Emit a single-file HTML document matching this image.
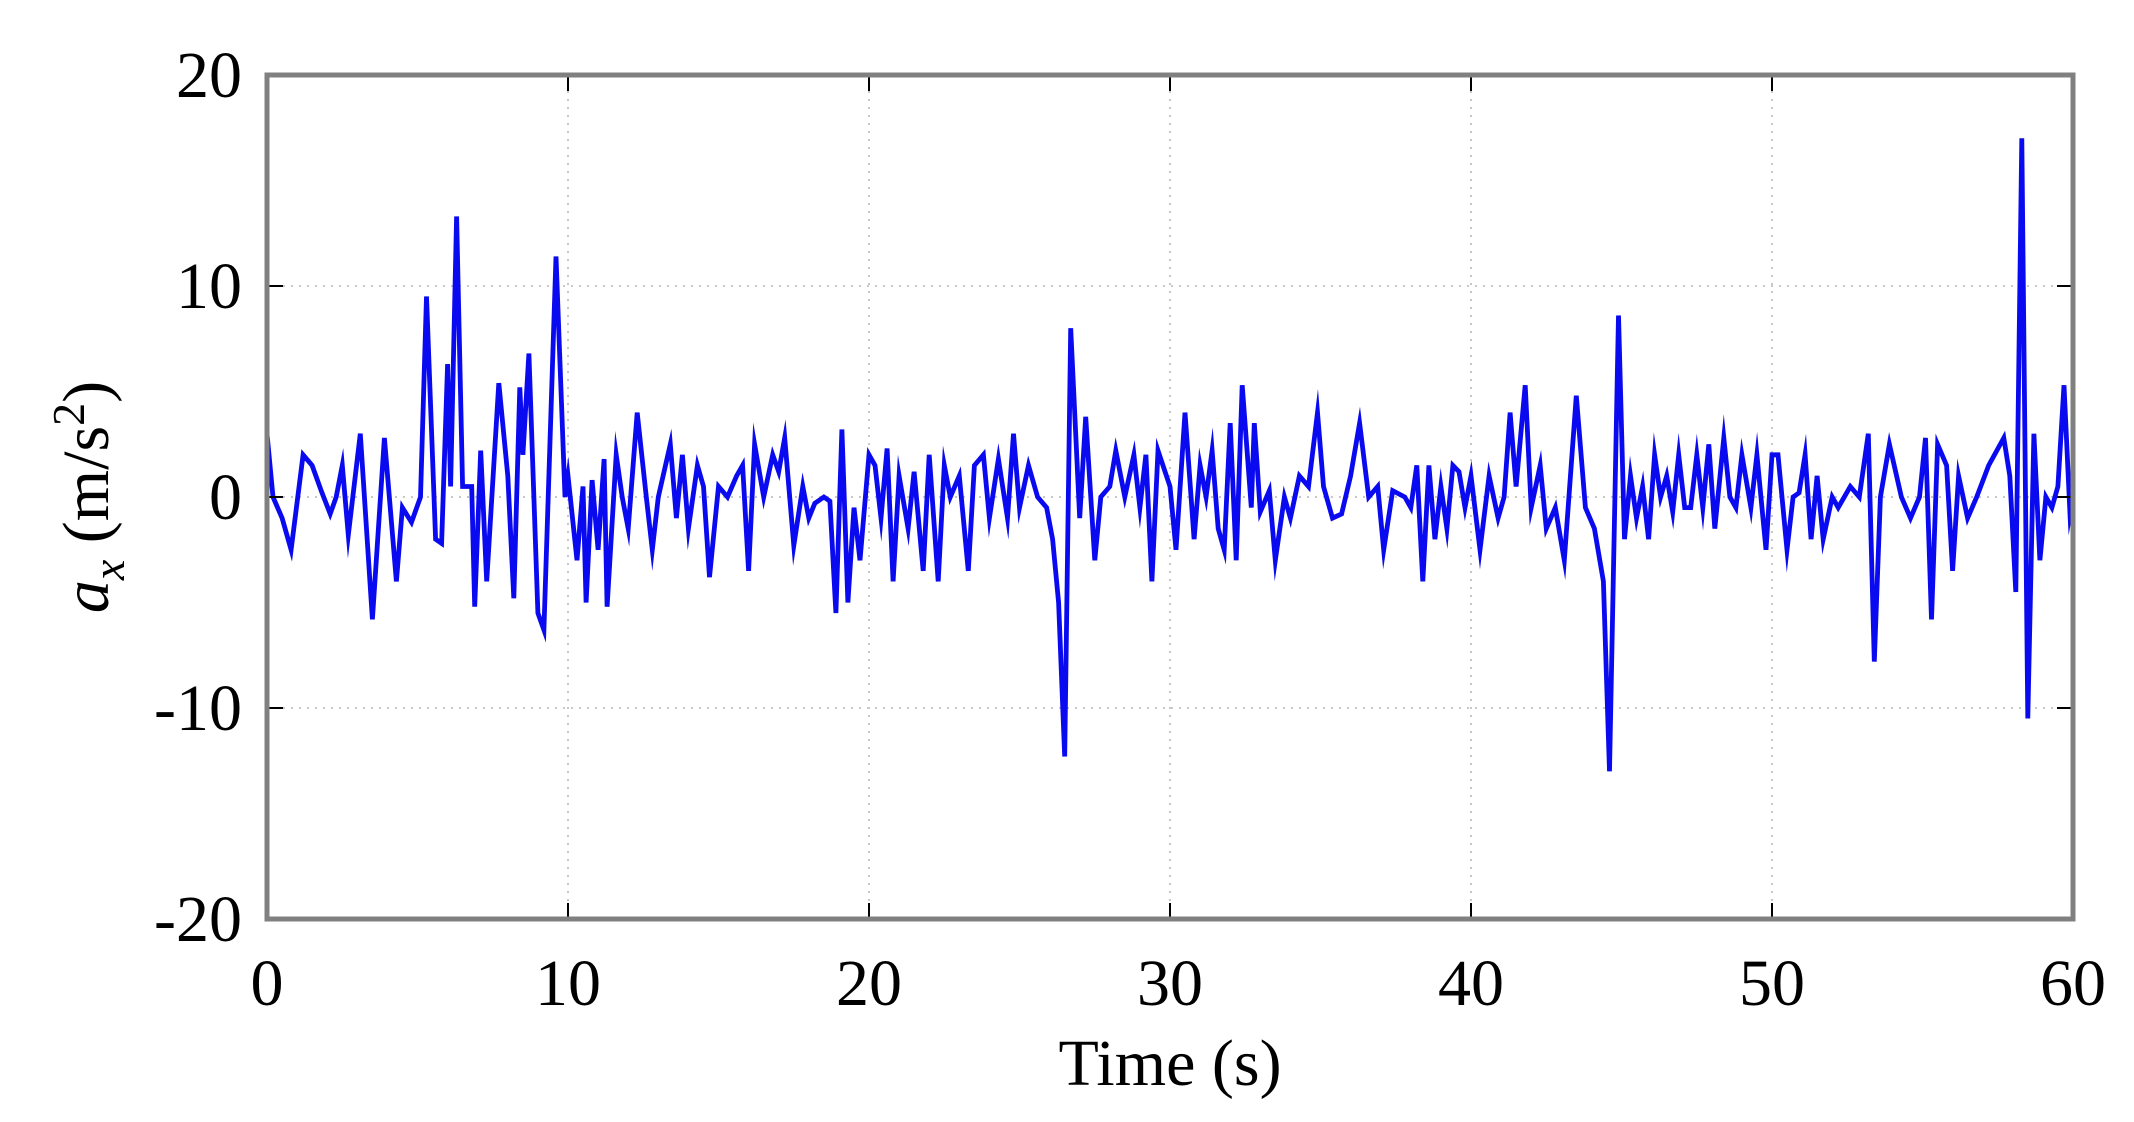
<!DOCTYPE html>
<html><head><meta charset="utf-8"><style>
html,body{margin:0;padding:0;background:#fff;}
svg{display:block;font-family:"Liberation Serif",serif;}
</style></head><body>
<svg id="chart" width="2134" height="1122" viewBox="0 0 2134 1122" xmlns="http://www.w3.org/2000/svg">
<g id="grid"></g>
<g id="series"></g>
<g id="axes"></g>
<text x="1170" y="1085" font-size="66" text-anchor="middle">Time (s)</text>
<text transform="translate(108,497) rotate(-90)" font-size="66" text-anchor="middle"><tspan font-style="italic">a</tspan><tspan font-size="46" font-style="italic" dy="16">x</tspan><tspan dy="-16"> (m/s</tspan><tspan font-size="46" dy="-24">2</tspan><tspan dy="24">)</tspan></text>
</svg>
<script>
const xTicks = [0,10,20,30,40,50,60];
const yTicks = [-20,-10,0,10,20];
const times = [0,0.2,0.5,0.8,1.2,1.5,1.8,2.1,2.3,2.5,2.7,3.1,3.5,3.9,4.3,4.5,4.8,5.1,5.3,5.6,5.8,6.0,6.1,6.3,6.5,6.8,6.9,7.1,7.3,7.7,8.0,8.2,8.4,8.5,8.7,9.0,9.2,9.6,9.9,10.0,10.3,10.5,10.6,10.8,11.0,11.2,11.3,11.6,11.8,12.0,12.3,12.6,12.8,13.0,13.4,13.6,13.8,14.0,14.3,14.5,14.7,15.0,15.3,15.6,15.8,16.0,16.2,16.5,16.8,17.0,17.2,17.5,17.8,18.0,18.2,18.5,18.7,18.9,19.1,19.3,19.5,19.7,20.0,20.2,20.4,20.6,20.8,21.0,21.3,21.5,21.8,22.0,22.3,22.5,22.7,23.0,23.3,23.5,23.8,24.0,24.3,24.6,24.8,25.0,25.3,25.6,25.9,26.1,26.3,26.5,26.7,27.0,27.2,27.5,27.7,28.0,28.2,28.5,28.8,29.0,29.2,29.4,29.6,30.0,30.2,30.5,30.8,31.0,31.2,31.4,31.6,31.8,32.0,32.2,32.4,32.7,32.8,33.0,33.3,33.5,33.8,34.0,34.3,34.6,34.9,35.1,35.4,35.7,36.0,36.3,36.6,36.9,37.1,37.4,37.8,38.0,38.2,38.4,38.6,38.8,39.0,39.2,39.4,39.6,39.8,40.0,40.3,40.6,40.9,41.1,41.3,41.5,41.8,42.0,42.3,42.5,42.8,43.1,43.5,43.8,44.1,44.4,44.6,44.9,45.1,45.3,45.5,45.7,45.9,46.1,46.3,46.5,46.7,46.9,47.1,47.3,47.5,47.7,47.9,48.1,48.4,48.6,48.8,49.0,49.3,49.5,49.8,50.0,50.2,50.5,50.7,50.9,51.1,51.3,51.5,51.7,52.0,52.2,52.6,52.9,53.2,53.4,53.6,53.9,54.3,54.6,54.9,55.1,55.3,55.5,55.8,56.0,56.2,56.5,56.8,57.2,57.7,57.9,58.1,58.3,58.5,58.7,58.9,59.1,59.3,59.5,59.7,59.9,60];
const accel = [3,0,-1,-2.5,2,1.5,0.3,-0.8,0,1.5,-1.8,3,-5.8,2.8,-4,-0.5,-1.2,0,9.5,-2,-2.2,6.3,0.5,13.3,0.5,0.5,-5.2,2.2,-4,5.4,1,-4.8,5.2,2,6.8,-5.5,-6.3,11.4,0,1,-3,0.5,-5,0.8,-2.5,1.8,-5.2,2,0,-1.5,4,0,-2.5,0,2.5,-1,2,-1.5,1.5,0.5,-3.8,0.5,0,1,1.5,-3.5,2.5,0,2,1.2,2.8,-2.3,0.5,-1,-0.3,0,-0.2,-5.5,3.2,-5,-0.5,-3,2,1.5,-1,2.3,-4,1,-1.5,1.2,-3.5,2,-4,1.5,0,1,-3.5,1.5,2,-1,1.8,-1,3,-0.5,1.5,0,-0.5,-2,-5,-12.3,8,-1,3.8,-3,0,0.5,2.2,0,2,-0.5,2,-4,2.2,0.5,-2.5,4,-2,1.5,0,2.2,-1.5,-2.5,3.5,-3,5.3,-0.5,3.5,-0.7,0.3,-3,0,-1,1,0.5,4,0.5,-1,-0.8,1,3.5,0,0.5,-2.5,0.3,0,-0.5,1.5,-4,1.5,-2,0.5,-1.5,1.5,1.2,-0.5,1,-2.5,1,-1,0,4,0.5,5.3,-0.5,1.5,-1.5,-0.5,-3,4.8,-0.5,-1.5,-4,-13,8.6,-2,1,-1,0.5,-2,2,0,1,-0.7,2,-0.5,-0.5,2,-0.5,2.5,-1.5,2.8,0,-0.5,2,-0.5,2,-2.5,2,2,-2.5,0,0.2,2,-2,1,-2,0,-0.5,0.5,0,3,-7.8,0,2.5,0,-1,0,2.8,-5.8,2.5,1.5,-3.5,1,-1,0,1.5,2.8,1,-4.5,17,-10.5,3,-3,0,-0.5,0.5,5.3,-0.8,0];

const L=267,R=2073,T=75,B=919;
const xMin=0,xMax=60,yMin=-20,yMax=20;
const sx=v=>L+(v-xMin)/(xMax-xMin)*(R-L);
const sy=v=>B-(v-yMin)/(yMax-yMin)*(B-T);
const NS="http://www.w3.org/2000/svg";
function mk(tag,attrs,parent){const e=document.createElementNS(NS,tag);for(const k in attrs)e.setAttribute(k,attrs[k]);parent.appendChild(e);return e;}
const grid=document.getElementById('grid'),axes=document.getElementById('axes'),series=document.getElementById('series');

xTicks.forEach(t=>{
  const x=sx(t);
  if(t>xMin&&t<xMax){
    const g=mk('line',{x1:x,y1:T,x2:x,y2:B,stroke:'#c8c8c8','stroke-width':2,'stroke-dasharray':'2,6'},grid);
    
    
  }
  const a=mk('line',{x1:x,y1:B,x2:x,y2:B-16,stroke:'#000','stroke-width':2},axes);
  
  
  const b=mk('line',{x1:x,y1:T,x2:x,y2:T+16,stroke:'#000','stroke-width':2},axes);
  
  
  const tx=mk('text',{x:x,y:1005,'font-size':66,'text-anchor':'middle'},axes);
  tx.textContent=t;
  
  
});
yTicks.forEach(t=>{
  const y=sy(t);
  if(t>yMin&&t<yMax){
    const g=mk('line',{x1:L,y1:y,x2:R,y2:y,stroke:'#c8c8c8','stroke-width':2,'stroke-dasharray':'2,6'},grid);
    
    
  }
  const a=mk('line',{x1:L,y1:y,x2:L+16,y2:y,stroke:'#000','stroke-width':2},axes);
  
  
  const b=mk('line',{x1:R,y1:y,x2:R-16,y2:y,stroke:'#000','stroke-width':2},axes);
  
  
  const tx=mk('text',{x:242,y:y+22,'font-size':66,'text-anchor':'end'},axes);
  tx.textContent=t;
  
  
});
const frame=mk('rect',{x:L,y:T,width:R-L,height:B-T,fill:'none',stroke:'#808080','stroke-width':5},axes);



const pts=times.map((t,i)=>sx(t).toFixed(1)+','+sy(accel[i]).toFixed(1)).join(' ');
const line=mk('polyline',{points:pts,fill:'none',stroke:'#0a0af0','stroke-width':4.8,'stroke-linejoin':'miter','stroke-miterlimit':10},series);


</script>
</body></html>
